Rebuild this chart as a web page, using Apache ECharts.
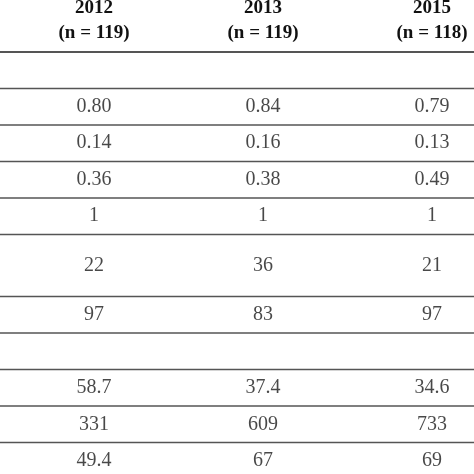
<!DOCTYPE html>
<html><head><meta charset="utf-8">
<script src="https://cdn.jsdelivr.net/npm/echarts@6/dist/echarts.min.js"></script>
<style>html,body{margin:0;padding:0;background:#fff}#c{width:474px;height:474px}</style>
</head><body><div id="c"></div>
<script>
const years = ['2012', '2013', '2015'];
const sampleSizes = ['119', '119', '118'];
// row labels are absent in the cropped picture; '' marks a section row with no values
const rowSpans = [1, 1, 1, 1, 1, 1.7, 1, 1, 1, 1, 1];
const col2012 = ['', '0.80', '0.14', '0.36', '1', '22', '97', '', '58.7', '331', '49.4'];
const col2013 = ['', '0.84', '0.16', '0.38', '1', '36', '83', '', '37.4', '609', '67'];
const col2015 = ['', '0.79', '0.13', '0.49', '1', '21', '97', '', '34.6', '733', '69'];

const cols = [col2012, col2013, col2015];
const bounds = [0];
rowSpans.forEach(s => bounds.push(bounds[bounds.length - 1] + s));
const total = bounds[bounds.length - 1];
const cellData = [];
cols.forEach((col, ci) => col.forEach((v, ri) => {
  if (v !== '') cellData.push({value: [ci, (bounds[ri] + bounds[ri + 1]) / 2], label: v});
}));

const chart = echarts.init(document.getElementById('c'));
chart.setOption({
  animation: false,
  grid: {left: 9.5, right: -42.5, top: 52, bottom: -5, outerBoundsMode: 'none', containLabel: false},
  xAxis: {
    type: 'category', position: 'top', data: years.map((y, i) => y + '\n(n = ' + sampleSizes[i] + ')'),
    axisLine: {show: false}, axisTick: {show: false},
    axisLabel: {margin: 6, fontFamily: 'Liberation Serif', fontWeight: 'bold', fontSize: 19, lineHeight: 25, color: '#111'}
  },
  yAxis: {type: 'value', min: 0, max: total, inverse: true, show: false},
  series: [
    {
      type: 'custom', silent: true,
      data: bounds.map(b => [0, b]),
      renderItem: (params, api) => {
        const y = api.coord([0, api.value(1)])[1];
        return {type: 'line', shape: {x1: 0, y1: y, x2: api.getWidth(), y2: y},
          style: {stroke: '#555', lineWidth: params.dataIndex === 0 ? 2 : 1.6}};
      }
    },
    {
      type: 'scatter', symbolSize: 0, data: cellData,
      label: {show: true, position: 'inside', formatter: p => p.data.label,
        fontFamily: 'Liberation Serif', fontSize: 20, color: '#1a1a1a'}
    }
  ]
});
</script></body></html>
